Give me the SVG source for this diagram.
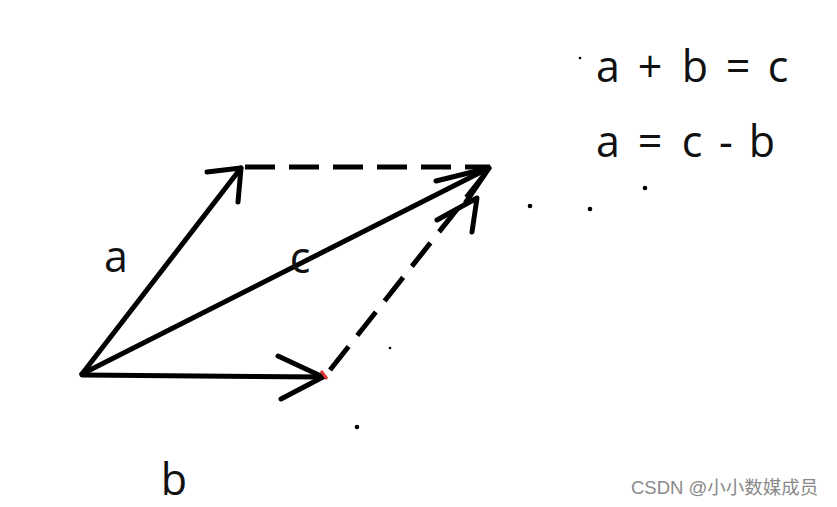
<svg xmlns="http://www.w3.org/2000/svg" width="837" height="507" viewBox="0 0 837 507">
<style>
.ln{stroke:#000;stroke-width:5;fill:none;stroke-linecap:round;stroke-linejoin:round}
.ds{stroke:#000;stroke-width:5;fill:none;stroke-dasharray:30 14}
.t{font-family:"Open Sans","Noto Sans",sans-serif;font-size:43px;fill:#111;text-anchor:middle}
.wm{font-family:"Liberation Sans","Noto Sans CJK SC",sans-serif;font-size:18.5px;fill:#8a8a8a}
</style>
<rect width="837" height="507" fill="#fff"/>
<g id="connectors">
<path class="ds" d="M245 167 H490"/>
<path class="ds" d="M330 370 L488 170" stroke-dasharray="22 12"/>
</g>
<g id="vec-a">
<path class="ln" d="M82 374 L241 168"/>
<path class="ln" d="M207 172 L241 168 L238 202"/>
</g>
<g id="vec-b">
<path class="ln" d="M82 375 L323 377"/>
<path class="ln" d="M278 356 L323 377 L281 399"/>
<path d="M321 371 L327 379" stroke="#d33" stroke-width="3"/>
</g>
<g id="vec-c">
<path class="ln" d="M82 374 L489 168"/>
<path class="ln" d="M436 181 L489 168 L466 202"/>
<path class="ln" d="M437 220 L477 198 L472 232"/>
</g>
<g id="labels">
<text class="t" x="116" y="272">a</text>
<text class="t" x="300" y="273">c</text>
<text class="t" x="174" y="495">b</text>
</g>
<g id="eq1">
<text class="t" y="82"><tspan x="608">a</tspan><tspan x="650">+</tspan><tspan x="695">b</tspan><tspan x="738">=</tspan><tspan x="778">c</tspan></text>
</g>
<g id="eq2">
<text class="t" y="157"><tspan x="608">a</tspan><tspan x="650">=</tspan><tspan x="692">c</tspan><tspan x="726">-</tspan><tspan x="762">b</tspan></text>
</g>
<g id="dots" fill="#000">
<circle cx="580" cy="58" r="1.3"/>
<circle cx="530" cy="206" r="2.3"/>
<circle cx="590" cy="209" r="2.3"/>
<circle cx="645" cy="188" r="2.3"/>
<circle cx="357" cy="427" r="2.3"/>
<circle cx="390" cy="348" r="1.3"/>
</g>
<text class="wm" x="631" y="494">CSDN @小小数媒成员</text>
</svg>
